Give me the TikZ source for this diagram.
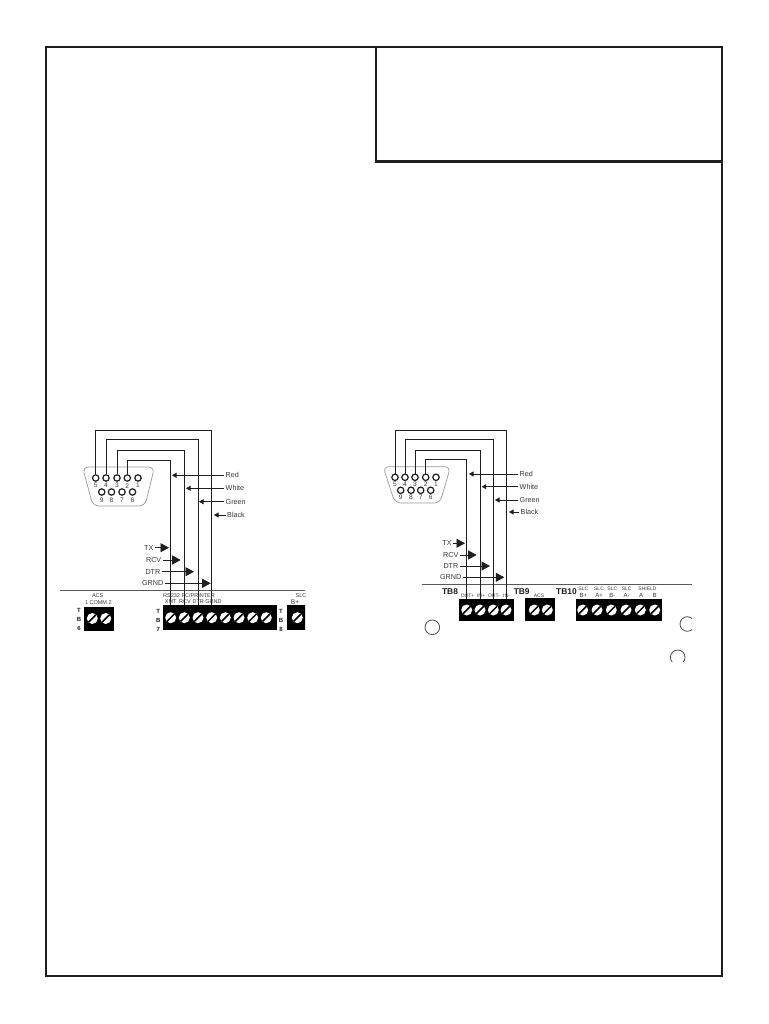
\documentclass[tikz,border=0pt]{standalone}
\usepackage{fontspec}
\setmainfont{Liberation Sans}
\usetikzlibrary{arrows.meta}
\definecolor{ink}{gray}{0.12}
\definecolor{txt}{gray}{0.22}
\tikzset{
  x=1pt,y=-1pt,
  frameline/.style={draw=ink,line width=2pt},
  wire/.style={draw=ink,line width=1pt},
  rail/.style={draw=black!65,line width=1pt},
  pinhole/.style={circle,draw=ink,fill=white,line width=1.2pt,minimum size=6.4pt,inner sep=0pt},
  shell/.style={draw=black!40,line width=.7pt,rounded corners=6pt},
  pinnum/.style={font=\fontsize{6.6}{7}\selectfont,text=txt,inner sep=0pt},
  lbl/.style={font=\fontsize{7.2}{8}\selectfont,text=txt,inner sep=1.5pt},
  tiny/.style={font=\fontsize{5.5}{6}\selectfont,text=txt,inner sep=0pt},
  tinyb/.style={font=\fontsize{5}{6}\selectfont,text=txt,inner sep=0pt},
  tbmark/.style={font=\bfseries\fontsize{6}{6}\selectfont,text=ink,inner sep=0pt},
  tbbold/.style={font=\bfseries\fontsize{8.4}{9}\selectfont,text=ink,inner sep=0pt},
  block/.style={fill=black,draw=none,inner sep=0pt},
  screw/.style={circle,fill=white,draw=none,minimum size=11pt,inner sep=0pt,
    path picture={\draw[black,line width=1.5pt] (path picture bounding box.south west) -- (path picture bounding box.north east);}},
  smalltip/.style={draw=ink,line width=.7pt,-{Triangle[length=4.5pt,width=5pt]}},
  bigtip/.style={draw=ink,line width=.8pt,-{Triangle[length=8.5pt,width=9pt]}},
  hole/.style={circle,draw=black!70,line width=.8pt,minimum size=14.6pt,inner sep=0pt}
}
\begin{document}
\begin{tikzpicture}
\useasboundingbox (0,0) rectangle (768,1024);
\path[fill=white] (0,0) rectangle (768,1024);
% page frame and title box
\draw[frameline] (45.5,47) rectangle (722,976);
\draw[frameline] (375.5,47) -- (375.5,161.5);
\draw[draw=ink,line width=2.8pt] (375,161.5) -- (722,161.5);

% ---------- LEFT ----------
\draw[rail] (60,590.7) -- (305,590.7);
\draw[shell,fill=white] (82.5,467) -- (154.5,467) -- (145,506) -- (93,506) -- cycle;
\foreach \n/\x in {5/95.7,4/106,3/117,2/127.3,1/138}{
  \node[pinhole] (la\n) at (\x,478) {};
  \node[pinnum] at (\x,485.7) {\n};
}
\foreach \n/\x in {9/101.7,8/111.5,7/122,6/132.5}{
  \node[pinhole] (la\n) at (\x,492) {};
  \node[pinnum] at (\x,500) {\n};
}
% TB6
\node[block,minimum width=30.3pt,minimum height=23.4pt] (ltb6) at (99.2,619) {};
\node[screw] (ls61) at (92.3,618.5) {};
\node[screw] (ls62) at (105.7,618.5) {};
\node[tiny] at (97.7,595.7) {ACS};
\node[tiny] at (98.3,603) {1 COMM 2};
\foreach \c/\y in {T/610.7,B/619,6/628}{\node[tbmark] at (79,\y) {\c};}
% TB7
\node[block,minimum width=114pt,minimum height=25pt] (ltb7) at (219.7,617.5) {};
\foreach \n/\x in {1/170.7,2/184.3,3/198,4/211.7,5/225.3,6/239,7/252.7,8/266.3}{
  \node[screw] (ls7\n) at (\x,617.7) {};
}
\foreach \c/\y in {T/611,B/620,7/629}{\node[tbmark] at (158.3,\y) {\c};}
% TB8 (cut off)
\begin{scope}
\clip (270,585) rectangle (305,640);
\node[block,minimum width=40pt,minimum height=25pt] (ltb8) at (306.7,617.5) {};
\node[screw] (ls81) at (297.3,617.7) {};
\node[screw] (ls82) at (311,617.7) {};
\node[tiny,anchor=west] at (295.5,595.5) {SLC};
\end{scope}
\node[font=\fontsize{6.6}{7}\selectfont,text=txt,inner sep=0pt] at (295,602.7) {B+};
\foreach \c/\y in {T/611,B/620,8/629}{\node[tbmark] at (281,\y) {\c};}
% wires
\draw[wire] (la5.north) -- ++(0,-44) -| (ls74 |- ltb7.north);
\draw[wire] (la4.north) -- ++(0,-34.5) -| (ls73 |- ltb7.north);
\draw[wire] (la3.north) -- ++(0,-24) -| (ls72 |- ltb7.north);
\draw[wire] (la2.north) -- ++(0,-13.5) -| (ls71 |- ltb7.north);
% header text over the wires
\node[tiny] at (189,595.3) {RS232 PC/PRINTER};
\foreach \t/\x in {XMT/170.7,RCV/185,DTR/198.3,GRND/213.5}{\node[tiny] at (\x,601.7) {\t};}
% colour labels
\node[lbl,anchor=west] (lred) at (224,475.3) {Red};
\node[lbl,anchor=west] (lwhite) at (224,488.3) {White};
\node[lbl,anchor=west] (lgreen) at (224,501.7) {Green};
\node[lbl,anchor=west] (lblack) at (225.5,515) {Black};
\coordinate (ltr) at (172,475.3);
\coordinate (ltw) at (186,488.3);
\coordinate (ltg) at (199,501.7);
\coordinate (ltb) at (214,515);
\draw[smalltip] (lred.west) -- (ltr);
\draw[smalltip] (lwhite.west) -- (ltw);
\draw[smalltip] (lgreen.west) -- (ltg);
\draw[smalltip] (lblack.west) -- (ltb);
% signal labels
\node[lbl,anchor=east] (ltx) at (155,547.7) {TX};
\node[lbl,anchor=east] (lrcv) at (163,560) {RCV};
\node[lbl,anchor=east] (ldtr) at (162,571.7) {DTR};
\node[lbl,anchor=east] (lgnd) at (165,583.3) {GRND};
\coordinate (lts) at (169,547.7);
\coordinate (ltc) at (180.7,560);
\coordinate (ltd) at (194,571.7);
\coordinate (ltn) at (210.7,583.3);
\draw[bigtip] (ltx.east) -- (lts);
\draw[bigtip] (lrcv.east) -- (ltc);
\draw[bigtip] (ldtr.east) -- (ltd);
\draw[bigtip] (lgnd.east) -- (ltn);

% ---------- RIGHT ----------
\draw[rail] (421.7,584.7) -- (691.7,584.7);
\draw[shell,fill=white] (383,466.7) -- (450.5,466.7) -- (440,503) -- (395,503) -- cycle;
\foreach \n/\x in {5/395,4/405,3/415,2/425.7,1/436}{
  \node[pinhole] (ra\n) at (\x,477.3) {};
  \node[pinnum] at (\x,484.6) {\n};
}
\foreach \n/\x in {9/400.7,8/411,7/420.7,6/430.7}{
  \node[pinhole] (ra\n) at (\x,490.3) {};
  \node[pinnum] at (\x,497.7) {\n};
}
% TB8
\node[block,minimum width=54.7pt,minimum height=22pt] (rtb8) at (486.3,610) {};
\foreach \n/\x in {1/466.7,2/480,3/493.3,4/506}{\node[screw] (rs8\n) at (\x,610) {};}
% TB9
\node[block,minimum width=29.7pt,minimum height=23pt] (rtb9) at (540.2,609.5) {};
\node[screw] (rs91) at (534.3,610) {};
\node[screw] (rs92) at (547.3,610) {};
% TB10
\node[block,minimum width=86pt,minimum height=22pt] (rtb10) at (618.7,610) {};
\foreach \n/\x in {1/582.7,2/597,3/611.3,4/626,5/640.3,6/654.7}{\node[screw] (rs10\n) at (\x,610) {};}
\node[tbbold] at (450,591.7) {TB8};
\node[tbbold] at (521.7,591.5) {TB9};
\node[tbbold] at (566.5,591.7) {TB10};
\node[tinyb] at (539,595.3) {ACS};
\foreach \t/\b/\x in {SLC/B+/583.3,SLC/A+/599,SLC/B-/612.3,SLC/A-/626.7}{
  \node[tinyb] at (\x,589) {\t};
  \node[font=\fontsize{6}{6}\selectfont,text=txt,inner sep=0pt] at (\x,595) {\b};
}
\node[tinyb] at (647.5,589) {SHIELD};
\node[font=\fontsize{6}{6}\selectfont,text=txt,inner sep=0pt] at (641,595) {A};
\node[font=\fontsize{6}{6}\selectfont,text=txt,inner sep=0pt] at (654.7,595) {B};
% wires
\draw[wire] (ra5.north) -- ++(0,-43.5) -| (rs84 |- rtb8.north);
\draw[wire] (ra4.north) -- ++(0,-34) -| (rs83 |- rtb8.north);
\draw[wire] (ra3.north) -- ++(0,-23.5) -| (rs82 |- rtb8.north);
\draw[wire] (ra2.north) -- ++(0,-14.4) -| (rs81 |- rtb8.north);
\foreach \t/\x in {OUT+/467.5,IN+/481,OUT-/494,IN-/506.5}{\node[tinyb] at (\x,595.7) {\t};}
% mounting holes
\node[hole] (rh1) at (432.3,627.3) {};
\begin{scope}
\clip (670,610) rectangle (692,661.7);
\node[hole] (rh2) at (687.3,624) {};
\node[hole] (rh3) at (677.7,657.3) {};
\end{scope}
% colour labels
\node[lbl,anchor=west] (rred) at (518,474) {Red};
\node[lbl,anchor=west] (rwhite) at (518,486.7) {White};
\node[lbl,anchor=west] (rgreen) at (518,500) {Green};
\node[lbl,anchor=west] (rblack) at (519,512) {Black};
\coordinate (rtr) at (469,474);
\coordinate (rtw) at (481.7,486.7);
\coordinate (rtg) at (495,500);
\coordinate (rtbk) at (509,512);
\draw[smalltip] (rred.west) -- (rtr);
\draw[smalltip] (rwhite.west) -- (rtw);
\draw[smalltip] (rgreen.west) -- (rtg);
\draw[smalltip] (rblack.west) -- (rtbk);
% signal labels
\node[lbl,anchor=east] (rtx) at (453.3,543.3) {TX};
\node[lbl,anchor=east] (rrcv) at (460,555) {RCV};
\node[lbl,anchor=east] (rdtr) at (460,566) {DTR};
\node[lbl,anchor=east] (rgnd) at (463,577.3) {GRND};
\coordinate (rts) at (465,543.3);
\coordinate (rtc) at (476.7,555);
\coordinate (rtd) at (490,566);
\coordinate (rtn) at (504.3,577.3);
\draw[bigtip] (rtx.east) -- (rts);
\draw[bigtip] (rrcv.east) -- (rtc);
\draw[bigtip] (rdtr.east) -- (rtd);
\draw[bigtip] (rgnd.east) -- (rtn);
\end{tikzpicture}
\end{document}
